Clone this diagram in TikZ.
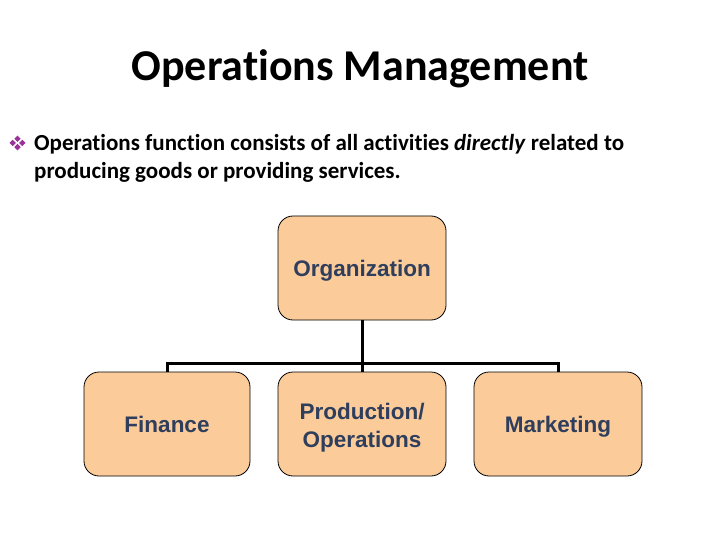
\documentclass[tikz,border=0pt]{standalone}
\usepackage{fontspec}
\setmainfont{Carlito}[Ligatures={NoCommon}]
\newfontfamily\boxfont{Liberation Sans}
\definecolor{boxfill}{HTML}{FBCB99}
\definecolor{boxtext}{HTML}{2E3E5C}
\definecolor{bulletcol}{HTML}{993399}
\tikzset{
  orgbox/.style={draw=black, line width=0.8pt, fill=boxfill, rounded corners=15pt,
    minimum width=168pt, minimum height=104pt, align=center, inner sep=0pt,
    text height=20pt, text depth=4pt,
    font=\boxfont\bfseries\fontsize{22.5}{28}\selectfont, text=boxtext},
  link/.style={line width=3pt, black},
  pip/.style={fill=bulletcol},
}
\begin{document}
\begin{tikzpicture}[x=1pt,y=-1pt]
\useasboundingbox (0,0) rectangle (720,540);
% title
\node[font=\bfseries\fontsize{44}{50}\selectfont, anchor=base] (title) at (360,81) {Operations Management};
% bullet (four small diamonds)
\foreach \dx/\dy in {0/-4.2, 0/4.2, -4.8/0, 4.8/0}{
  \fill[pip] ({17.5+\dx},{143+\dy-3.2}) -- ++(3.2,3.2) -- ++(-3.2,3.2) -- ++(-3.2,-3.2) -- cycle;
}
\node[anchor=base west, inner sep=0pt, font=\bfseries\fontsize{23}{28}\selectfont] (bt1) at (34,151)
  {Operations function consists of all activities \textit{directly} related to};
\node[anchor=base west, inner sep=0pt, font=\bfseries\fontsize{23}{28}\selectfont] (bt2) at (34,179)
  {producing goods or providing services.};
% boxes
\node[orgbox] (org) at (362,268) {Organization};
\node[orgbox, minimum width=166pt] (fin) at (167,424) {Finance};
\node[orgbox, text height=50pt, text depth=4pt] (prod) at (362,424) {Production/\\Operations};
\node[orgbox] (mkt) at (558,424) {Marketing};
% connectors
\coordinate (bus) at (362,363);
\draw[link] (org.south) -- (bus);
\draw[link] (fin.north) |- (bus) -| (mkt.north);
\draw[link] (bus) -- (prod.north);
\end{tikzpicture}
\end{document}
